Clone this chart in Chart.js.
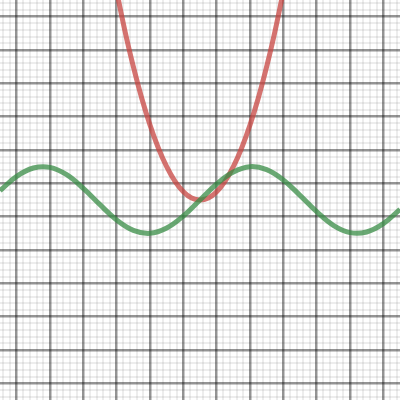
<!DOCTYPE html>
<html>
<head>
<meta charset="utf-8">
<script src="https://cdn.jsdelivr.net/npm/chart.js@4/dist/chart.umd.min.js"></script>
<style>
  html, body { margin: 0; padding: 0; background: #fff; }
  #wrap { width: 400px; height: 400px; }
</style>
</head>
<body>
<div id="wrap"><canvas id="graph"></canvas></div>
<script>
// green wave
const waveX = [-6, -5.5, -5, -4.5, -4, -3.5, -3, -2.5, -2, -1.5, -1, -0.5, 0,
               0.5, 1, 1.5, 2, 2.5, 3, 3.5, 4, 4.5, 5, 5.5, 6];
const waveY = [0.28, 0.71, 0.96, 0.98, 0.76, 0.35, -0.14, -0.6, -0.91, -1.0, -0.84, -0.48, 0,
               0.48, 0.84, 1.0, 0.91, 0.6, 0.14, -0.35, -0.76, -0.98, -0.96, -0.71, -0.28];

// red parabola
const bowlX = [-2.6, -2.25, -2, -1.75, -1.5, -1.25, -1, -0.75, -0.5, -0.25, 0,
               0.25, 0.5, 0.75, 1, 1.25, 1.5, 1.75, 2, 2.25, 2.6];
const bowlY = [6.76, 5.06, 4.0, 3.06, 2.25, 1.56, 1.0, 0.56, 0.25, 0.06, 0,
               0.06, 0.25, 0.56, 1.0, 1.56, 2.25, 3.06, 4.0, 5.06, 6.76];

// grid: minor every 0.2, major ones fall on the halves
const gridLines = [-5.9, -5.7, -5.5, -5.3, -5.1, -4.9, -4.7, -4.5, -4.3, -4.1,
  -3.9, -3.7, -3.5, -3.3, -3.1, -2.9, -2.7, -2.5, -2.3, -2.1,
  -1.9, -1.7, -1.5, -1.3, -1.1, -0.9, -0.7, -0.5, -0.3, -0.1,
  0.1, 0.3, 0.5, 0.7, 0.9, 1.1, 1.3, 1.5, 1.7, 1.9,
  2.1, 2.3, 2.5, 2.7, 2.9, 3.1, 3.3, 3.5, 3.7, 3.9,
  4.1, 4.3, 4.5, 4.7, 4.9, 5.1, 5.3, 5.5, 5.7, 5.9];

function isMajor(v) {
  const r = Math.abs(v - 0.5 - Math.round(v - 0.5));
  return r < 0.01;
}

function axis(min, max) {
  return {
    type: 'linear',
    min: min,
    max: max,
    afterBuildTicks: (s) => { s.ticks = gridLines.map(v => ({ value: v })); },
    afterFit: (s) => { s.width = 0; s.height = 0; },
    ticks: { display: false },
    border: { display: false },
    grid: {
      drawTicks: false,
      color: (c) => isMajor(c.tick.value) ? 'rgba(0,0,0,0.42)' : 'rgba(0,0,0,0.07)',
      lineWidth: (c) => isMajor(c.tick.value) ? 2.5 : 2,
    },
  };
}

const ctx = document.getElementById('graph').getContext('2d');
new Chart(ctx, {
  type: 'scatter',
  data: {
    datasets: [
      {
        data: waveX.map((x, i) => ({ x: x, y: waveY[i] })),
        showLine: true,
        borderColor: 'rgba(56,140,70,0.75)',
        borderWidth: 5,
        pointRadius: 0,
        tension: 0.4,
      },
      {
        data: bowlX.map((x, i) => ({ x: x, y: bowlY[i] })),
        showLine: true,
        borderColor: 'rgba(199,68,64,0.75)',
        borderWidth: 5,
        pointRadius: 0,
        tension: 0.4,
      },
    ],
  },
  options: {
    responsive: true,
    maintainAspectRatio: false,
    animation: false,
    layout: { padding: 0 },
    scales: {
      x: axis(-6, 6),
      y: axis(-6, 6),
    },
    plugins: {
      legend: { display: false },
      tooltip: { enabled: false },
    },
  },
});
</script>
</body>
</html>
